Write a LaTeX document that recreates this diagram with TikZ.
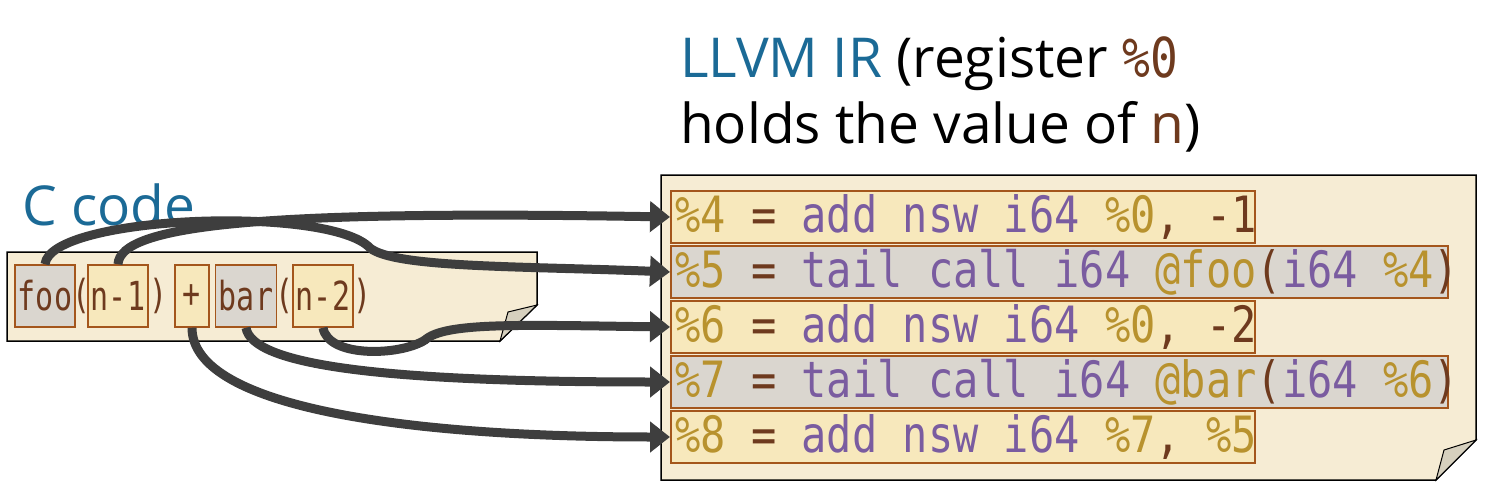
\documentclass[tikz,border=0pt]{standalone}
\usepackage{fontspec}
\setmainfont{Open Sans}
\newfontfamily\codefont[FakeStretch=0.84]{DejaVu Sans Mono}
\newfontfamily\ccodefont[FakeStretch=0.75]{DejaVu Sans Mono}
\usetikzlibrary{arrows.meta}
\definecolor{parch}{HTML}{F6ECD4}
\definecolor{rowy}{HTML}{F7E8BC}
\definecolor{rowg}{HTML}{DAD6CF}
\definecolor{bord}{HTML}{A4561C}
\definecolor{ttl}{HTML}{1B6A96}
\definecolor{gold}{HTML}{B8922E}
\definecolor{brn}{HTML}{6E3A1E}
\definecolor{purp}{HTML}{7A5CA0}
\definecolor{arr}{HTML}{3E3E3E}
\definecolor{fold}{HTML}{D6D0BE}
\newcommand{\G}[1]{\textcolor{gold}{#1}}
\newcommand{\B}[1]{\textcolor{brn}{#1}}
\newcommand{\Pu}[1]{\textcolor{purp}{#1}}
\tikzset{
 ctxt/.style={inner sep=0pt,font=\ccodefont\fontsize{40}{40}\selectfont,text=brn},
 tok/.style={ctxt,draw=bord,line width=1.5pt,minimum height=62pt},
 rowbox/.style={draw=bord,line width=2pt,minimum height=52pt,anchor=north west,inner sep=0pt},
 rowtxt/.style={anchor=west,inner sep=0pt,font=\codefont\fontsize{50}{50}\selectfont},
 conn/.style={draw=arr,line width=9pt,-{Triangle[length=20pt,width=30pt]}},
 paper/.style={draw=black,line width=1.5pt,fill=parch},
 ttlfont/.style={font=\fontsize{55}{55}\selectfont},
}
\begin{document}
\begin{tikzpicture}[x=1pt,y=-1pt]
\useasboundingbox (0,0) rectangle (1488,492);
% titles
\node[anchor=base west,inner sep=0pt,text=ttl,ttlfont] (ct) at (22,225) {C code};
\node[anchor=base west,inner sep=0pt,ttlfont] (lt) at (680,78) {\textcolor{ttl}{LLVM IR} (register \textcolor{brn}{\codefont\%0}};
\node[anchor=base west,inner sep=0pt,ttlfont] (lt2) at (680,143) {holds the value of \textcolor{brn}{n})};
% papers
\path[paper] (7,252) -- (537,252) -- (537,305) -- (500,341) -- (7,341) -- cycle;
\path[draw=black,line width=1pt,fill=fold] (500,341) -- (508,312) -- (537,305) -- cycle;
\path[paper] (661,175) -- (1476,175) -- (1476,440) -- (1436,480) -- (661,480) -- cycle;
\path[draw=black,line width=1pt,fill=fold] (1436,480) -- (1444,450) -- (1476,440) -- cycle;
% C tokens
\node[tok,fill=rowg,minimum width=60pt] (foo) at (45,296) {foo};
\node[ctxt] (p1) at (82,296) {(};
\node[tok,fill=rowy,minimum width=60pt] (nm1) at (118,296) {n-1};
\node[ctxt] (p2) at (159,296) {)};
\node[tok,fill=rowy,minimum width=34pt] (plus) at (192,296) {+};
\node[tok,fill=rowg,minimum width=61pt] (bar) at (246,296) {bar};
\node[ctxt] (p3) at (285,296) {(};
\node[tok,fill=rowy,minimum width=60pt] (nm2) at (323,296) {n-2};
\node[ctxt] (p4) at (363,296) {)};
% IR rows
\node[rowbox,fill=rowy,minimum width=584pt] (r1) at (670,190) {};
\node[rowbox,fill=rowg,minimum width=777pt] (r2) at (670,245) {};
\node[rowbox,fill=rowy,minimum width=584pt] (r3) at (670,300) {};
\node[rowbox,fill=rowg,minimum width=777pt] (r4) at (670,355) {};
\node[rowbox,fill=rowy,minimum width=584pt] (r5) at (670,410) {};
\node[rowtxt] (t1) at ([xshift=5pt]r1.west) {\G{\%4} \B{=} \Pu{add nsw i64} \G{\%0}\B{, -1}};
\node[rowtxt] (t2) at ([xshift=5pt]r2.west) {\G{\%5} \B{=} \Pu{tail call i64} \G{@foo}\B{(}\Pu{i64} \G{\%4}\B{)}};
\node[rowtxt] (t3) at ([xshift=5pt]r3.west) {\G{\%6} \B{=} \Pu{add nsw i64} \G{\%0}\B{, -2}};
\node[rowtxt] (t4) at ([xshift=5pt]r4.west) {\G{\%7} \B{=} \Pu{tail call i64} \G{@bar}\B{(}\Pu{i64} \G{\%6}\B{)}};
\node[rowtxt] (t5) at ([xshift=5pt]r5.west) {\G{\%8} \B{=} \Pu{add nsw i64} \G{\%7}\B{, }\G{\%5}};
% connectors
\draw[conn] (nm1.north) .. controls (120,225) and (260,210) .. (r1.west);
\draw[conn] (foo.north) .. controls (50,215) and (330,205) .. (370,248) .. controls (395,268) and (520,266) .. (r2.west);
\draw[conn] (nm2.south) .. controls (328,358) and (400,356) .. (425,340) .. controls (445,322) and (520,325) .. (r3.west);
\draw[conn] (bar.south) .. controls (252,365) and (380,382) .. (r4.west);
\draw[conn] (plus.south) .. controls (192,410) and (420,437) .. (r5.west);
\end{tikzpicture}
\end{document}
